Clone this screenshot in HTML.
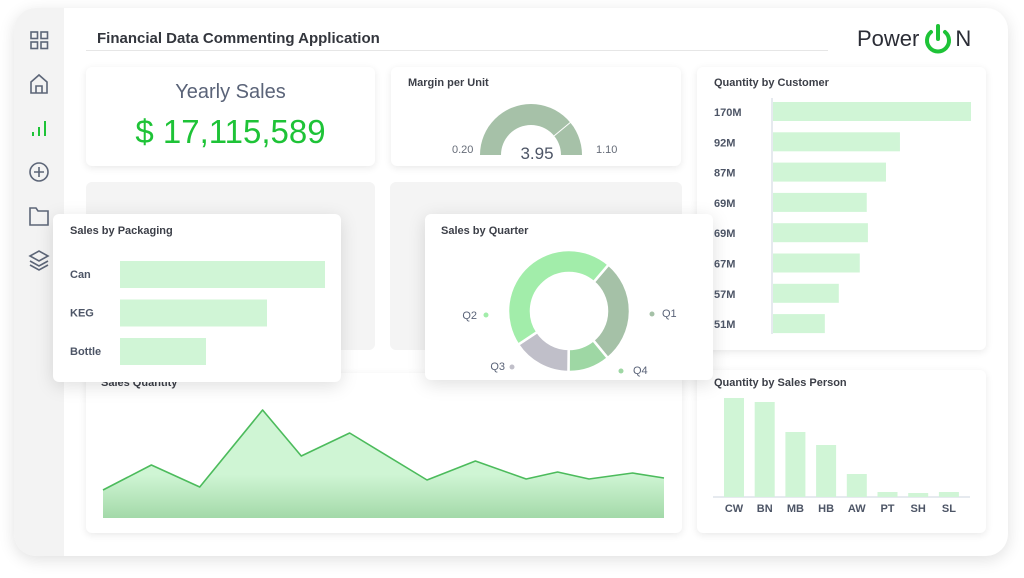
<!DOCTYPE html>
<html><head><meta charset="utf-8"><style>
*{box-sizing:border-box;margin:0;padding:0}
body{width:1024px;height:578px;background:#fff;font-family:"Liberation Sans",sans-serif;position:relative;overflow:hidden}
.abs{position:absolute}
.frame{left:14px;top:8px;width:994px;height:548px;border-radius:22px;background:#fff;box-shadow:0 4px 16px rgba(0,0,0,0.12);overflow:hidden}
.side{left:0;top:0;width:50px;height:548px;background:#f3f3f3}
.card{background:#fff;border-radius:6px;box-shadow:0 2px 8px rgba(0,0,0,0.09)}
.ph{background:#f4f4f4;border-radius:6px}
.ttl{font-size:11px;font-weight:bold;color:#3c3f48}
svg text{font-family:"Liberation Sans",sans-serif}
</style></head><body>
<div class="abs frame">
  <div class="abs side"></div>
</div>
<svg class="abs" style="left:0;top:0" width="1024" height="578">
  <g fill="none" stroke="#5d6678" stroke-width="1.6">
    <g><rect x="31" y="32" width="6.5" height="6.5"/><rect x="41" y="32" width="6.5" height="6.5"/><rect x="31" y="42" width="6.5" height="6.5"/><rect x="41" y="42" width="6.5" height="6.5"/></g>
    <g><path d="M31 93 V82 L39 75 L47 82 V93 Z"/><path d="M36 93 V86 H42 V93"/></g>
    <g stroke="#1ec337" stroke-width="2"><path d="M33 136 V132 M39 136 V127 M45 136 V121"/></g>
    <g><circle cx="39" cy="172" r="9"/><path d="M39 167 V177 M34 172 H44"/></g>
    <g><path d="M30 208 H36 L38 211 H48 V225 H30 Z"/></g>
    <g><path d="M30 256 L39 251 L48 256 L39 261 Z"/><path d="M30 261 L39 266 L48 261"/><path d="M30 265 L39 270 L48 265"/></g>
  </g>
</svg>
<div class="abs" style="left:97px;top:30px;font-size:15px;font-weight:bold;color:#33363d">Financial Data Commenting Application</div>
<div class="abs" style="left:86px;top:50px;width:742px;height:1px;background:#e6e6e6"></div>
<div class="abs" style="left:857px;top:22px;height:34px;display:flex;align-items:center;font-size:22px;color:#2b2d36">Power<svg width="32" height="34" style="margin:0 1px 0 3px"><path d="M9 10 A11 11 0 1 0 23 10" fill="none" stroke="#1ec337" stroke-width="4" stroke-linecap="round"/><path d="M16 4 V17" stroke="#1ec337" stroke-width="4" stroke-linecap="round"/></svg>N</div>

<div class="abs ph" style="left:86px;top:182px;width:289px;height:168px"></div>
<div class="abs ph" style="left:390px;top:182px;width:292px;height:168px"></div>

<div class="abs card" style="left:86px;top:67px;width:289px;height:99px">
  <div class="abs" style="left:0;width:289px;top:14px;text-align:center;font-size:20px;color:#5a6378">Yearly Sales</div>
  <div class="abs" style="left:0;width:289px;top:46px;text-align:center;font-size:33px;color:#1ec337">$ 17,115,589</div>
</div>
<div class="abs card" style="left:391px;top:67px;width:290px;height:99px">
  <div class="abs ttl" style="left:17px;top:10px">Margin per Unit</div>
</div>
<div class="abs card" style="left:697px;top:67px;width:289px;height:283px">
  <div class="abs ttl" style="left:17px;top:10px">Quantity by Customer</div>
</div>
<div class="abs card" style="left:86px;top:373px;width:596px;height:160px">
  <div class="abs ttl" style="left:15px;top:4px">Sales Quantity</div>
</div>
<div class="abs card" style="left:697px;top:370px;width:289px;height:163px">
  <div class="abs ttl" style="left:17px;top:7px">Quantity by Sales Person</div>
</div>
<div class="abs card" style="left:53px;top:214px;width:288px;height:168px;box-shadow:0 4px 18px rgba(0,0,0,0.13)">
  <div class="abs ttl" style="left:17px;top:11px">Sales by Packaging</div>
</div>
<div class="abs card" style="left:425px;top:214px;width:288px;height:166px;box-shadow:0 4px 18px rgba(0,0,0,0.13)">
  <div class="abs ttl" style="left:16px;top:11px">Sales by Quarter</div>
</div>

<svg id="ch" class="abs" style="left:0;top:0" width="1024" height="578"></svg>

<script>
const custLabels=["170M","92M","87M","69M","69M","67M","57M","51M"];
const custValues=[170,109,97,80.5,81.5,74.5,56.5,44.5];
const packCats=["Can","KEG","Bottle"];
const packValues=[205,147,86];
const quarterCats=["Q1","Q4","Q3","Q2"];
const quarterValues=[100,40,56,164];
const areaTimes=[0,1,2,3.3,4.1,5.1,6.7,7.7,8.75,9.4,10.05,10.95,11.6];
const areaValues=[28,53,31,108,62,85,38,57,39,46,39,45,40];
const personCats=["CW","BN","MB","HB","AW","PT","SH","SL"];
const personValues=[99,95,65,52,23,5,4,5];
const gaugeValue=0.78;

const NS="http://www.w3.org/2000/svg";
const svg=document.getElementById('ch');
function mk(tag,attrs,parent){const e=document.createElementNS(NS,tag);for(const k in attrs)e.setAttribute(k,attrs[k]);(parent||svg).appendChild(e);return e;}
function txt(x,y,s,attrs){const t=mk('text',Object.assign({x:x,y:y},attrs));t.textContent=s;return t;}

// Gauge
(function(){
  const cx=531,cy=155,R=51,r=30;
  const g=mk('g',{});
  
  
  mk('path',{d:`M${cx-R} ${cy} A${R} ${R} 0 0 1 ${cx+R} ${cy} L${cx+r} ${cy} A${r} ${r} 0 0 0 ${cx-r} ${cy} Z`,fill:'#a6c1a8'},g);
  const a=Math.PI*(1-gaugeValue);
  mk('line',{x1:cx+r*Math.cos(a),y1:cy-r*Math.sin(a),x2:cx+R*Math.cos(a),y2:cy-R*Math.sin(a),stroke:'#fff','stroke-width':1},g);
  const t1=txt(452,153,"0.20",{'font-size':11,fill:'#666c78'});
  
  
  const t2=txt(596,153,"1.10",{'font-size':11,fill:'#666c78'});
  
  
  const t3=txt(537,159,"3.95",{'font-size':17,fill:'#4d5566','text-anchor':'middle'});
  
  
})();

// Customer bars
(function(){
  const x0=772,maxW=198,maxV=Math.max(...custValues),y0=102,step=30.3,h=19;
  const ax=mk('line',{x1:x0,y1:98,x2:x0,y2:334,stroke:'#dde3ea','stroke-width':1.5});
  
  
  custValues.forEach((v,i)=>{
    const b=mk('rect',{x:x0+1,y:y0+i*step,width:v/maxV*maxW,height:h,fill:'#d0f5d6'});
    
    
    const t=txt(714,y0+i*step+14,custLabels[i],{'font-size':11,'font-weight':'bold',fill:'#4d5566'});
    
    
  });
})();

// Area
(function(){
  const x0=103,x1=664,base=518,top=410,maxV=108;
  const tMax=areaTimes[areaTimes.length-1];
  const xs=t=>x0+t/tMax*(x1-x0);
  const ys=v=>base-(v/maxV)*(base-top);
  const defs=mk('defs',{});
  const lg=mk('linearGradient',{id:'ag',x1:0,y1:0,x2:0,y2:1},defs);
  mk('stop',{offset:'0.6','stop-color':'#cff5d4'},lg);
  mk('stop',{offset:'1','stop-color':'#a3d9a9'},lg);
  let d=areaValues.map((v,i)=>(i?'L':'M')+xs(areaTimes[i])+' '+ys(v)).join(' ');
  const a=mk('path',{d:d+` L${x1} ${base} L${x0} ${base} Z`,fill:'url(#ag)'});
  
  
  const l=mk('path',{d:d,fill:'none',stroke:'#4cbb5c','stroke-width':1.6,'stroke-linejoin':'round'});
  
  
})();

// Salesperson bars
(function(){
  const base=497,maxH=99,maxV=Math.max(...personValues),x0=734,step=30.7,w=20;
  const ax=mk('line',{x1:713,y1:base,x2:970,y2:base,stroke:'#dde3ea','stroke-width':1.5});
  
  
  personValues.forEach((v,i)=>{
    const h=v/maxV*maxH;
    const b=mk('rect',{x:x0+i*step-w/2,y:base-h,width:w,height:h,fill:'#d0f5d6'});
    
    
    const t=txt(x0+i*step,512,personCats[i],{'font-size':11,'font-weight':'bold',fill:'#4d5566','text-anchor':'middle'});
    
    
  });
})();

// Packaging bars
(function(){
  const x0=120,y0=261,step=38.5,h=27,maxV=205,maxW=205;
  packValues.forEach((v,i)=>{
    const b=mk('rect',{x:x0,y:y0+i*step,width:v/maxV*maxW,height:h,fill:'#d0f5d6'});
    
    
    const t=txt(70,y0+i*step+17,packCats[i],{'font-size':11,'font-weight':'bold',fill:'#4d5566'});
    
    
  });
})();

// Donut
(function(){
  const cx=569,cy=311,R=61,r=38;
  const colors={Q1:'#a5c1a7',Q4:'#9ed7a4',Q3:'#c0bfc9',Q2:'#a2edaa'};
  const tot=quarterValues.reduce((a,b)=>a+b,0);
  let ang=40.5;
  const pt=(a,rad)=>[cx+rad*Math.sin(a*Math.PI/180),cy-rad*Math.cos(a*Math.PI/180)];
  quarterValues.forEach((v,i)=>{
    const sw=v/tot*360,a1=ang,a2=ang+sw,lg=sw>180?1:0;
    const p1=pt(a1,R),p2=pt(a2,R),p3=pt(a2,r),p4=pt(a1,r);
    const s=mk('path',{d:`M${p1} A${R} ${R} 0 ${lg} 1 ${p2} L${p3} A${r} ${r} 0 ${lg} 0 ${p4} Z`,fill:colors[quarterCats[i]],stroke:'#fff','stroke-width':2.5});
    
    
    ang=a2;
  });
  const labs=[["Q1",662,317,652,314,'start'],["Q4",633,374,621,371,'start'],["Q3",505,370,512,367,'end'],["Q2",477,319,486,315,'end']];
  labs.forEach(L=>{
    mk('circle',{cx:L[3],cy:L[4],r:2.5,fill:colors[L[0]]});
    const t=txt(L[1],L[2],L[0],{'font-size':11,fill:'#5a6378','text-anchor':L[5]});
    
    
  });
})();
</script>
</body></html>
